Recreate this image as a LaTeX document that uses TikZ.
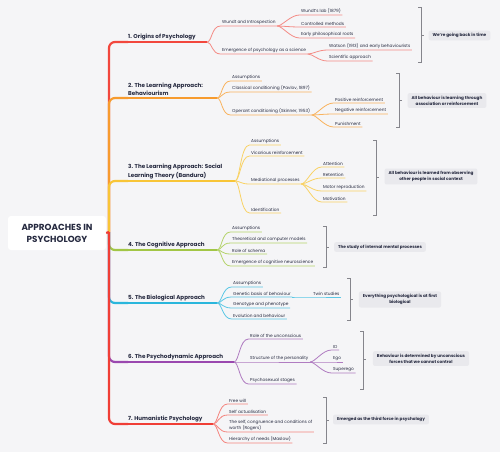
\documentclass[tikz,border=0pt]{standalone}
\usepackage{fontspec}
\setmainfont{Poppins}
\usetikzlibrary{calc}
\definecolor{bg}{HTML}{F5F5F7}
\definecolor{txt}{HTML}{262A40}
\definecolor{sumbg}{HTML}{E9E9ED}
\definecolor{brkgray}{HTML}{85858C}
\definecolor{ca}{HTML}{F2473D}\definecolor{cal}{HTML}{F48C86}
\definecolor{cb}{HTML}{F79B2E}\definecolor{cbl}{HTML}{F9B35E}
\definecolor{cc}{HTML}{F8C537}\definecolor{ccl}{HTML}{F9D265}
\definecolor{cd}{HTML}{A2C646}\definecolor{cdl}{HTML}{B5D36C}
\definecolor{ce}{HTML}{2AB6DC}\definecolor{cel}{HTML}{5BC7E5}
\definecolor{cf}{HTML}{9A48AF}\definecolor{cfl}{HTML}{B07CC1}
\definecolor{cg}{HTML}{F03E36}\definecolor{cgl}{HTML}{F4847E}
\newcommand{\mkleaf}[6]{%
  \node[leaf] (#1) at (#2-1.5,#3) {#4};
  \draw[#6] (#5) .. controls +(5,0) and +(-9,0) .. (#1.south west) -- (#1.south east);
}
\newcommand{\mkbrk}[5]{% name, x, top, bottom, mid
  \draw[brk] (#2-3,#3) -- (#2,#3) -- (#2,#4) -- (#2-3,#4);
  \coordinate (#1) at (#2,#5);
}
\begin{document}
\begin{tikzpicture}[x=1pt,y=-1pt,
  leaf/.style={anchor=south west, inner xsep=1.5pt, inner ysep=1.3pt, font=\fontsize{4.3}{6.3}\selectfont, text=txt, align=left},
  mainlbl/.style={anchor=south west, inner xsep=0pt, inner ysep=2.2pt, font=\bfseries\fontsize{5.6}{8.2}\selectfont, text=txt, align=left},
  summ/.style={fill=sumbg, rounded corners=2pt, font=\bfseries\fontsize{4.2}{6.3}\selectfont, text=txt, align=center, inner xsep=4pt, inner ysep=2.6pt},
  rootbox/.style={fill=white, rounded corners=3pt, minimum width=98pt, minimum height=34pt, font=\bfseries\fontsize{8.8}{12}\selectfont, text=txt, align=center},
  brk/.style={draw=brkgray, line width=0.7pt},
  la/.style={draw=cal, line width=0.8pt}, lb/.style={draw=cbl, line width=0.8pt},
  lc/.style={draw=ccl, line width=0.8pt}, ld/.style={draw=cdl, line width=0.8pt},
  le/.style={draw=cel, line width=0.8pt}, lf/.style={draw=cfl, line width=0.8pt},
  lg/.style={draw=cgl, line width=0.8pt},
  thick trunk/.style={line width=2.2pt, rounded corners=6pt},
  thin main/.style={line width=1.2pt}
]
\fill[bg] (0,0) rectangle (500,452);
\useasboundingbox (0,0) rectangle (500,452);

% root
\node[rootbox] (root) at (57,233) {APPROACHES IN\\PSYCHOLOGY};
\coordinate (hub) at (109,232);

% main labels
\node[mainlbl] (b1) at (128,42) {1. Origins of Psychology};
\node[mainlbl] (b2) at (128,98) {2. The Learning Approach:\\Behaviourism};
\node[mainlbl] (b3) at (128,181) {3. The Learning Approach: Social\\Learning Theory (Bandura)};
\node[mainlbl] (b4) at (128,250) {4. The Cognitive Approach};
\node[mainlbl] (b5) at (128,303) {5. The Biological Approach};
\node[mainlbl] (b6) at (128,362) {6. The Psychodynamic Approach};
\node[mainlbl] (b7) at (128,424) {7. Humanistic Psychology};

\coordinate (f1) at (207,42);
\coordinate (f2) at (217,98);
\coordinate (f3) at (235,181);
\coordinate (f4) at (217,250);
\coordinate (f5) at (217,303);
\coordinate (f6) at (234,362);
\coordinate (f7) at (213,424);

% trunk and main branches
\foreach \i/\c in {1/ca,2/cb,3/cc,4/cd,5/ce,6/cf,7/cg}{
  \draw[draw=\c, thick trunk] (hub) -- (hub |- b\i.south west) -- (b\i.south west);
  \draw[draw=\c, thin main] (b\i.south west) -- (f\i);
}
\draw[draw=cg, line width=2.2pt] (root.east) -- (hub);

% branch 1
\mkleaf{w1}{222}{26}{Wundt and Introspection}{f1}{la}
\mkleaf{e1}{222}{54}{Emergence of psychology as a science}{f1}{la}
\mkleaf{w1a}{301}{15}{Wundt's lab (1879)}{w1.south east}{la}
\mkleaf{w1b}{301}{27}{Controlled methods}{w1.south east}{la}
\mkleaf{w1c}{301}{38}{Early philosophical roots}{w1.south east}{la}
\mkleaf{e1a}{329}{50}{Watson (1913) and early behaviourists}{e1.south east}{la}
\mkleaf{e1b}{329}{61}{Scientific approach}{e1.south east}{la}
\mkbrk{k1}{421}{7}{62}{35}
\node[summ] (s1) at (459.5,35.5) {We're going back in time};
\draw[brk] (k1) -- ++(3,0);

% branch 2
\mkleaf{a2}{232}{81}{Assumptions}{f2}{lb}
\mkleaf{c2}{232}{92}{Classical conditioning (Pavlov, 1897)}{f2}{lb}
\mkleaf{o2}{232}{115}{Operant conditioning (Skinner, 1953)}{f2}{lb}
\mkleaf{o2a}{335}{103}{Positive reinforcement}{o2.south east}{lb}
\mkleaf{o2b}{335}{114}{Negative reinforcement}{o2.south east}{lb}
\mkleaf{o2c}{335}{127}{Punishment}{o2.south east}{lb}
\mkbrk{k2}{399}{73}{127}{100}
\node[summ] (s2) at (447,100.5) {All behaviour is learning through\\association or reinforcement};
\draw[brk] (k2) -- ++(3,0);

% branch 3
\mkleaf{a3}{251}{145}{Assumptions}{f3}{lc}
\mkleaf{v3}{251}{156}{Vicarious reinforcement}{f3}{lc}
\mkleaf{m3}{251}{184}{Mediational processes}{f3}{lc}
\mkleaf{i3}{251}{213}{Identification}{f3}{lc}
\mkleaf{m3a}{323}{167}{Attention}{m3.south east}{lc}
\mkleaf{m3b}{323}{178}{Retention}{m3.south east}{lc}
\mkleaf{m3c}{323}{191}{Motor reproduction}{m3.south east}{lc}
\mkleaf{m3d}{323}{202}{Motivation}{m3.south east}{lc}
\mkbrk{k3}{376}{140}{215}{177}
\node[summ] (s3) at (431,176.5) {All behaviour is learned from observing\\other people in social context};
\draw[brk] (k3) -- ++(3,0);

% branch 4
\mkleaf{a4}{232}{232}{Assumptions}{f4}{ld}
\mkleaf{t4}{232}{243}{Theoretical and computer models}{f4}{ld}
\mkleaf{r4}{232}{254}{Role of schema}{f4}{ld}
\mkleaf{n4}{232}{266}{Emergence of cognitive neuroscience}{f4}{ld}
\mkbrk{k4}{326}{226}{267}{247}
\node[summ] (s4) at (380,247) {The study of internal mental processes};
\draw[brk] (k4) -- ++(3,0);

% branch 5
\mkleaf{a5}{233}{287}{Assumptions}{f5}{le}
\mkleaf{g5}{233}{297}{Genetic basis of behaviour}{f5}{le}
\mkleaf{p5}{233}{308}{Genotype and phenotype}{f5}{le}
\mkleaf{v5}{233}{319}{Evolution and behaviour}{f5}{le}
\mkleaf{g5a}{313}{297}{Twin studies}{g5.south east}{le}
\mkbrk{k5}{350}{278}{320}{299}
\node[summ] (s5) at (400,299.5) {Everything psychological is at first\\biological};
\draw[brk] (k5) -- ++(3,0);

% branch 6
\mkleaf{r6}{250}{339}{Role of the unconscious}{f6}{lf}
\mkleaf{s6}{250}{362}{Structure of the personality}{f6}{lf}
\mkleaf{p6}{250}{384}{Psychosexual stages}{f6}{lf}
\mkleaf{s6a}{333}{350}{ID}{s6.south east}{lf}
\mkleaf{s6b}{333}{362}{Ego}{s6.south east}{lf}
\mkleaf{s6c}{333}{373}{Superego}{s6.south east}{lf}
\mkbrk{k6}{363}{331}{389}{359}
\node[summ] (s6box) at (421,358.5) {Behaviour is determined by unconscious\\forces that we cannot control};
\draw[brk] (k6) -- ++(3,0);

% branch 7
\mkleaf{a7}{229}{404}{Free will}{f7}{lg}
\mkleaf{b7a}{229}{415}{Self actualisation}{f7}{lg}
\mkleaf{c7}{229}{432}{The self, congruence and conditions of\\worth (Rogers)}{f7}{lg}
\mkleaf{d7}{229}{443}{Hierarchy of needs (Maslow)}{f7}{lg}
\mkbrk{k7}{326}{397}{443}{420}
\node[summ] (s7) at (381,419.5) {Emerged as the third force in psychology};
\draw[brk] (k7) -- ++(3,0);
\end{tikzpicture}
\end{document}
